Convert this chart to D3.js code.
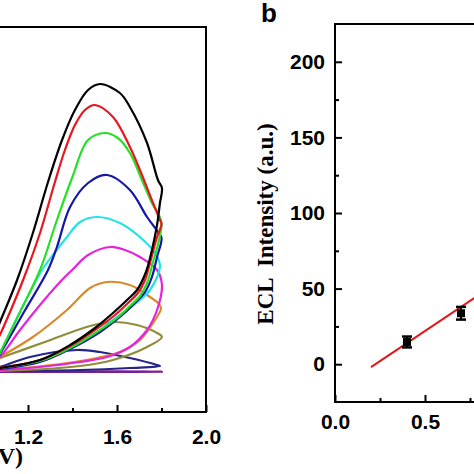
<!DOCTYPE html>
<html>
<head>
<meta charset="utf-8">
<script src="https://cdn.jsdelivr.net/npm/d3@7"></script>
<style>
  body { margin: 0; background: #fff; }
  svg { display: block; }
  .tick text { font-family: "Liberation Sans", Arial, sans-serif; font-weight: bold; font-size: 21px; }
</style>
</head>
<body>
<div id="container"></div>
<script>
let w = 474;
let h = 474;

// panel a : ECL-potential scans, [potential (V), intensity (a.u.)]
let scanBlack = [[1.05,375],[1.074,500],[1.151,920],[1.222,1390],[1.29,1900],[1.353,2320],[1.411,2620],[1.47,2820],[1.524,2880],[1.613,2790],[1.658,2650],[1.735,2290],[1.784,1920],[1.802,1840],
  [1.793,1690],[1.78,1470],[1.757,1220],[1.73,1000],[1.69,820],[1.645,720],[1.582,590],[1.501,440],[1.389,270],[1.254,120],[1.074,40],[1.05,30]];
let scanRed = [[1.05,260],[1.088,440],[1.178,920],[1.254,1390],[1.321,1900],[1.366,2220],[1.411,2470],[1.456,2620],[1.501,2670],[1.582,2550],[1.658,2250],[1.703,2020],[1.762,1690],[1.793,1520],[1.8,1480],
  [1.78,1350],[1.748,1090],[1.726,920],[1.694,790],[1.649,690],[1.591,570],[1.501,420],[1.389,260],[1.254,120],[1.074,40],[1.05,30]];
let scanGreen = [[1.05,90],[1.074,190],[1.164,600],[1.254,1020],[1.33,1520],[1.398,1940],[1.47,2320],[1.546,2390],[1.604,2340],[1.658,2190],[1.712,1920],[1.757,1690],[1.784,1590],[1.8,1490],
  [1.789,1320],[1.762,1100],[1.735,890],[1.703,760],[1.658,660],[1.6,540],[1.51,400],[1.389,240],[1.254,110],[1.074,40],[1.05,30]];
let scanBlue = [[1.05,100],[1.074,180],[1.182,600],[1.29,1020],[1.33,1250],[1.389,1650],[1.47,1890],[1.555,1970],[1.658,1820],[1.735,1550],[1.784,1400],[1.8,1340],
  [1.78,1150],[1.757,950],[1.726,800],[1.672,670],[1.613,550],[1.524,400],[1.389,230],[1.254,100],[1.074,30],[1.05,25]];
let scanCyan = [[1.05,100],[1.074,190],[1.164,600],[1.263,1020],[1.312,1170],[1.375,1350],[1.434,1500],[1.51,1550],[1.613,1490],[1.703,1350],[1.771,1190],[1.793,1070],
  [1.78,950],[1.748,820],[1.703,720],[1.645,620],[1.569,500],[1.479,350],[1.366,220],[1.231,100],[1.074,30],[1.05,25]];
let scanMagenta = [[1.05,110],[1.074,150],[1.164,420],[1.254,670],[1.344,900],[1.398,1020],[1.47,1170],[1.569,1250],[1.636,1220],[1.703,1150],[1.78,1020],[1.802,870],
  [1.78,620],[1.735,420],[1.658,250],[1.555,150],[1.434,100],[1.254,50],[1.074,20],[1.05,18]];
let scanOrange = [[1.05,120],[1.074,150],[1.222,350],[1.375,620],[1.479,840],[1.555,900],[1.658,870],[1.735,770],[1.784,690],[1.798,640],
  [1.771,520],[1.703,320],[1.613,200],[1.51,140],[1.344,80],[1.074,20],[1.05,18]];
let scanOlive = [[1.05,120],[1.074,140],[1.276,300],[1.479,460],[1.582,500],[1.69,470],[1.78,390],[1.802,350],
  [1.735,250],[1.582,120],[1.434,60],[1.074,10],[1.05,10]];
let scanNavy = [[1.05,40],[1.074,50],[1.209,150],[1.42,220],[1.524,200],[1.658,140],[1.78,70],[1.793,60],
  [1.658,40],[1.434,20],[1.074,10],[1.05,10]];
let scanPurple = [[1.05,4],[1.3,6],[1.6,6],[1.802,4],[1.6,1],[1.3,0],[1.05,0]];

let scans = [scanPurple, scanNavy, scanOlive, scanOrange, scanMagenta, scanCyan, scanBlue, scanGreen, scanRed, scanBlack];
let scanColors = ["#7a1f8f", "#24248a", "#8e8e3a", "#d98a2c", "#e424dc", "#22e4e4", "#1616a8", "#26e026", "#e8161e", "#000000"];

let potentialTicks = [1.2, 1.6, 2.0];
let potentialMinor = [1.4, 1.8];

// panel b : ECL intensity vs concentration
let concX = [0.4, 0.7];
let eclY = [14.7, 33.7];
let eclErr = [3.6, 4.2];
let fitSlope = 79.6;
let fitIntercept = -17.9;
let fitRange = [0.2, 2.4];
let concTicks = [0.0, 0.5, 1.0, 1.5, 2.0, 2.5];
let concMinor = [0.25, 0.75, 1.25, 1.75, 2.25];
let eclTicks = [0, 50, 100, 150, 200];
let eclMinor = [25, 75, 125, 175];

let svg = d3.select("#container")
  .append("svg")
    .attr("width", w)
    .attr("height", h)
    .style("background-color", "white")
;

// ---------- panel a ----------
let xA = d3.scaleLinear().domain([0.8, 2.0]).range([-61, 206]);
let yA = d3.scaleLinear().domain([-400, 3450]).range([412, 27]);

let lineA = d3.line()
  .x(d => xA(d[0]))
  .y(d => yA(d[1]))
  .curve(d3.curveCatmullRom.alpha(0.5));

svg.append("g")
  .selectAll("path")
  .data(scans)
  .enter()
  .append("path")
    .attr("d", lineA)
    .attr("fill", "none")
    .attr("stroke", (d, i) => scanColors[i])
    .attr("stroke-width", 2.2)
;

// frame a
svg.append("rect")
  .attr("x", xA(0.8))
  .attr("y", yA(3450))
  .attr("width", xA(2.0) - xA(0.8))
  .attr("height", yA(-400) - yA(3450))
  .attr("fill", "none")
  .attr("stroke", "black")
  .attr("stroke-width", 2)
;

let axisA = svg.append("g")
  .attr("transform", "translate(0," + yA(-400) + ")")
  .call(d3.axisBottom(xA).tickValues(potentialTicks).tickSizeInner(-7).tickSizeOuter(0).tickPadding(17).tickFormat(d3.format(".1f")));
axisA.select(".domain").remove();
axisA.selectAll(".tick line").attr("stroke-width", 2);

let minorA = svg.append("g")
  .attr("transform", "translate(0," + yA(-400) + ")")
  .call(d3.axisBottom(xA).tickValues(potentialMinor).tickSizeInner(-4).tickSizeOuter(0).tickFormat(""));
minorA.select(".domain").remove();
minorA.selectAll(".tick line").attr("stroke-width", 2);

svg.append("text")
  .attr("x", 23)
  .attr("y", 464)
  .attr("text-anchor", "end")
  .style("font-family", "'Liberation Serif', 'Times New Roman', serif")
  .style("font-weight", "bold")
  .style("font-size", "24px")
  .text("Potential (V)")
;

// ---------- panel b ----------
let xB = d3.scaleLinear().domain([0, 2.5]).range([335, 785]);
let yB = d3.scaleLinear().domain([-25, 225]).range([402, 24]);

svg.append("rect")
  .attr("x", xB(0))
  .attr("y", yB(225))
  .attr("width", xB(2.5) - xB(0))
  .attr("height", yB(-25) - yB(225))
  .attr("fill", "none")
  .attr("stroke", "black")
  .attr("stroke-width", 2)
;

let axisBx = svg.append("g")
  .attr("transform", "translate(0," + yB(-25) + ")")
  .call(d3.axisBottom(xB).tickValues(concTicks).tickSizeInner(-7).tickSizeOuter(0).tickPadding(12).tickFormat(d3.format(".1f")));
axisBx.select(".domain").remove();
axisBx.selectAll(".tick line").attr("stroke-width", 2);

let minorBx = svg.append("g")
  .attr("transform", "translate(0," + yB(-25) + ")")
  .call(d3.axisBottom(xB).tickValues(concMinor).tickSizeInner(-4).tickSizeOuter(0).tickFormat(""));
minorBx.select(".domain").remove();
minorBx.selectAll(".tick line").attr("stroke-width", 2);

let axisBy = svg.append("g")
  .attr("transform", "translate(" + xB(0) + ",0)")
  .call(d3.axisLeft(yB).tickValues(eclTicks).tickSizeInner(-7).tickSizeOuter(0).tickPadding(10));
axisBy.select(".domain").remove();
axisBy.selectAll(".tick line").attr("stroke-width", 2);

let minorBy = svg.append("g")
  .attr("transform", "translate(" + xB(0) + ",0)")
  .call(d3.axisLeft(yB).tickValues(eclMinor).tickSizeInner(-4).tickSizeOuter(0).tickFormat(""));
minorBy.select(".domain").remove();
minorBy.selectAll(".tick line").attr("stroke-width", 2);

// fit line
svg.append("line")
  .attr("x1", xB(fitRange[0]))
  .attr("y1", yB(fitSlope * fitRange[0] + fitIntercept))
  .attr("x2", xB(fitRange[1]))
  .attr("y2", yB(fitSlope * fitRange[1] + fitIntercept))
  .attr("stroke", "#e01818")
  .attr("stroke-width", 2)
;

// error bars + points
let pts = svg.selectAll(".pt").data(concX).enter()
  .append("g")
    .classed("pt", true)
    .attr("transform", (d, i) => "translate(" + xB(d) + ",0)")
;
pts.append("line")
  .attr("y1", (d, i) => yB(eclY[i] - eclErr[i]))
  .attr("y2", (d, i) => yB(eclY[i] + eclErr[i]))
  .attr("stroke", "black")
  .attr("stroke-width", 2)
;
pts.append("line")
  .attr("x1", -5).attr("x2", 5)
  .attr("y1", (d, i) => yB(eclY[i] - eclErr[i]))
  .attr("y2", (d, i) => yB(eclY[i] - eclErr[i]))
  .attr("stroke", "black")
  .attr("stroke-width", 2.5)
;
pts.append("line")
  .attr("x1", -5).attr("x2", 5)
  .attr("y1", (d, i) => yB(eclY[i] + eclErr[i]))
  .attr("y2", (d, i) => yB(eclY[i] + eclErr[i]))
  .attr("stroke", "black")
  .attr("stroke-width", 2.5)
;
pts.append("rect")
  .attr("x", -4)
  .attr("y", (d, i) => yB(eclY[i]) - 4)
  .attr("width", 8)
  .attr("height", 8)
  .attr("fill", "black")
;

svg.append("text")
  .attr("transform", "translate(273,224) rotate(-90)")
  .attr("text-anchor", "middle")
  .style("font-family", "'Liberation Serif', 'Times New Roman', serif")
  .style("font-weight", "bold")
  .style("font-size", "23px")
  .style("white-space", "pre")
  .text("ECL  Intensity (a.u.)")
;

svg.append("text")
  .attr("x", 261)
  .attr("y", 22)
  .style("font-family", "'Liberation Sans', Arial, sans-serif")
  .style("font-weight", "bold")
  .style("font-size", "26px")
  .text("b")
;
</script>
</body>
</html>
